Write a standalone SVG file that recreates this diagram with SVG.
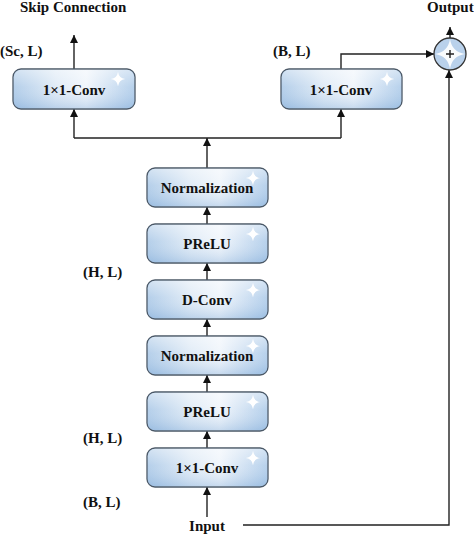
<svg xmlns="http://www.w3.org/2000/svg" width="474" height="557" viewBox="0 0 474 557">
<defs>
<linearGradient id="gh" x1="0" y1="0" x2="1" y2="0">
<stop offset="0" stop-color="#a7c6e6"/>
<stop offset="0.35" stop-color="#dbe8f5"/>
<stop offset="0.6" stop-color="#eef4fb"/>
<stop offset="1" stop-color="#a9c8e8"/>
</linearGradient>
<linearGradient id="gv" x1="0" y1="0" x2="0" y2="1">
<stop offset="0" stop-color="#ffffff" stop-opacity="0.5"/>
<stop offset="0.45" stop-color="#ffffff" stop-opacity="0.15"/>
<stop offset="1" stop-color="#7fa9d6" stop-opacity="0.35"/>
</linearGradient>
<marker id="ah" viewBox="0 0 10 10" refX="10" refY="5" markerWidth="8" markerHeight="8" markerUnits="userSpaceOnUse" orient="auto">
<path d="M0,0 L10,5 L0,10 z" fill="#111"/>
</marker>
<symbol id="star" viewBox="-10 -10 20 20" overflow="visible">
<path d="M0,-9 Q1,-1 9,0 Q1,1 0,9 Q-1,1 -9,0 Q-1,-1 0,-9 z" fill="#ffffff"/>
</symbol>
</defs>
<style>
.box{stroke:#4b5866;stroke-width:1.3}
.t{font-family:"Liberation Serif","Times New Roman",serif;font-weight:bold;font-size:15px;fill:#111}
.c{text-anchor:middle}
.ln{fill:none;stroke:#222;stroke-width:1.4}
</style>
<g id="connectors">
<path class="ln" d="M74,69 L74,35" marker-end="url(#ah)"/>
<path class="ln" d="M207,168 L207,138" marker-end="url(#ah)"/>
<path class="ln" d="M74,138 L341,138"/>
<path class="ln" d="M74,138 L74,109" marker-end="url(#ah)"/>
<path class="ln" d="M341,138 L341,109" marker-end="url(#ah)"/>
<path class="ln" d="M341,69 L341,54 L434,54" marker-end="url(#ah)"/>
<path class="ln" d="M450,38 L450,27" marker-end="url(#ah)"/>
<path class="ln" d="M243,525 L449,525 L449,70" marker-end="url(#ah)"/>
<path class="ln" d="M207,224 L207,207" marker-end="url(#ah)"/>
<path class="ln" d="M207,280 L207,263" marker-end="url(#ah)"/>
<path class="ln" d="M207,336 L207,319" marker-end="url(#ah)"/>
<path class="ln" d="M207,392 L207,375" marker-end="url(#ah)"/>
<path class="ln" d="M207,448 L207,431" marker-end="url(#ah)"/>
<path class="ln" d="M207,517 L207,487" marker-end="url(#ah)"/>
</g>
<g id="skip-conv">
<rect class="box" x="13" y="69" width="122" height="40" rx="8" fill="url(#gh)"/>
<rect x="13.7" y="69.7" width="120.6" height="38.6" rx="7.5" fill="url(#gv)"/>
<use href="#star" x="110" y="71" width="16" height="16"/>
<text class="t c" x="74" y="95">1×1-Conv</text>
</g>
<g id="out-conv">
<rect class="box" x="281" y="69" width="121" height="40" rx="8" fill="url(#gh)"/>
<rect x="281.7" y="69.7" width="119.6" height="38.6" rx="7.5" fill="url(#gv)"/>
<use href="#star" x="379" y="71" width="16" height="16"/>
<text class="t c" x="341" y="95">1×1-Conv</text>
</g>
<g id="norm2">
<rect class="box" x="147" y="168" width="121" height="39" rx="8" fill="url(#gh)"/>
<rect x="147.7" y="168.7" width="119.6" height="37.6" rx="7.5" fill="url(#gv)"/>
<use href="#star" x="245" y="170" width="16" height="16"/>
<text class="t c" x="207" y="193">Normalization</text>
</g>
<g id="prelu2">
<rect class="box" x="147" y="224" width="121" height="39" rx="8" fill="url(#gh)"/>
<rect x="147.7" y="224.7" width="119.6" height="37.6" rx="7.5" fill="url(#gv)"/>
<use href="#star" x="245" y="226" width="16" height="16"/>
<text class="t c" x="207" y="249">PReLU</text>
</g>
<g id="dconv">
<rect class="box" x="147" y="280" width="121" height="39" rx="8" fill="url(#gh)"/>
<rect x="147.7" y="280.7" width="119.6" height="37.6" rx="7.5" fill="url(#gv)"/>
<use href="#star" x="245" y="282" width="16" height="16"/>
<text class="t c" x="207" y="305">D-Conv</text>
</g>
<g id="norm1">
<rect class="box" x="147" y="336" width="121" height="39" rx="8" fill="url(#gh)"/>
<rect x="147.7" y="336.7" width="119.6" height="37.6" rx="7.5" fill="url(#gv)"/>
<use href="#star" x="245" y="338" width="16" height="16"/>
<text class="t c" x="207" y="361">Normalization</text>
</g>
<g id="prelu1">
<rect class="box" x="147" y="392" width="121" height="39" rx="8" fill="url(#gh)"/>
<rect x="147.7" y="392.7" width="119.6" height="37.6" rx="7.5" fill="url(#gv)"/>
<use href="#star" x="245" y="394" width="16" height="16"/>
<text class="t c" x="207" y="417">PReLU</text>
</g>
<g id="in-conv">
<rect class="box" x="147" y="448" width="121" height="39" rx="8" fill="url(#gh)"/>
<rect x="147.7" y="448.7" width="119.6" height="37.6" rx="7.5" fill="url(#gv)"/>
<use href="#star" x="245" y="450" width="16" height="16"/>
<text class="t c" x="207" y="473">1×1-Conv</text>
</g>
<g id="sum">
<circle cx="450" cy="54" r="16" fill="#b9d1eb" stroke="#333" stroke-width="1.3"/>
<path d="M450,39 Q452,52 465,54 Q452,56 450,69 Q448,56 435,54 Q448,52 450,39 z" fill="#ffffff" opacity="0.9"/>
<path d="M446,54 L454,54 M450,50 L450,58" stroke="#222" stroke-width="1.4"/>
</g>
<g id="labels">
<text class="t" x="20" y="12">Skip Connection</text>
<text class="t" x="427" y="12">Output</text>
<text class="t" x="0" y="56">(Sc, L)</text>
<text class="t" x="273" y="56">(B, L)</text>
<text class="t" x="83" y="277">(H, L)</text>
<text class="t" x="83" y="443">(H, L)</text>
<text class="t" x="83" y="507">(B, L)</text>
<text class="t c" x="207" y="531">Input</text>
</g>
</svg>
